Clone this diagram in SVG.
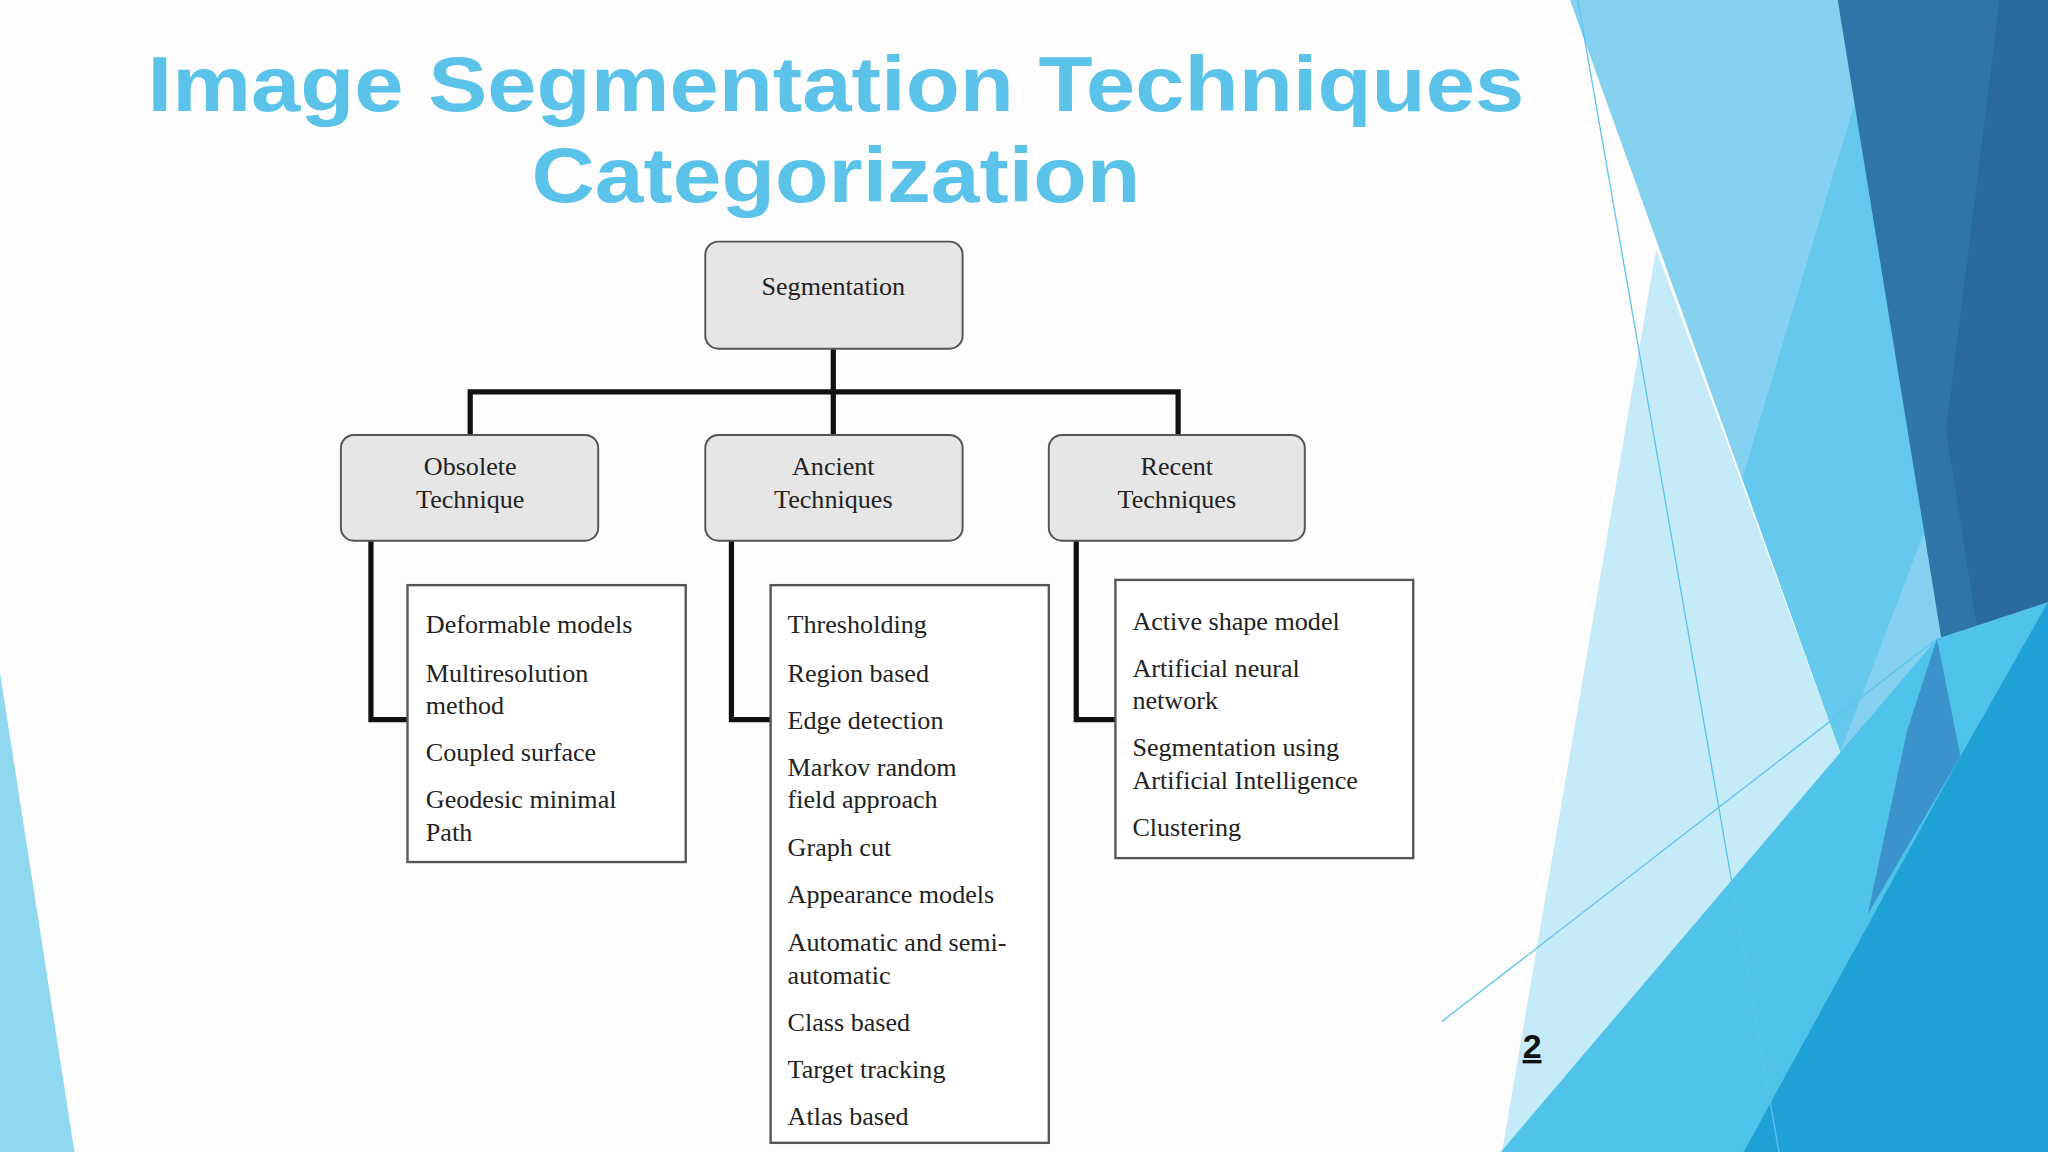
<svg xmlns="http://www.w3.org/2000/svg" width="2048" height="1152" viewBox="0 0 2048 1152">
<style>
.t{font-family:"Liberation Serif",serif;font-size:20px;fill:#222}
.c{text-anchor:middle}
.nb{fill:#e6e6e6;stroke:#555;stroke-width:1.5}
.lb{fill:#fff;stroke:#555;stroke-width:1.8}
.k{stroke:#111;stroke-width:4;fill:none}
</style>
<rect width="2048" height="1152" fill="#fdfdfd"/>
<g transform="scale(1.30612)">
<g id="background">
<polygon points="0,515 0,882 57,882" fill="#8fd8f0"/>
<polygon points="1202,0 1568,0 1568,700 1409,576" fill="#84d2f0"/>
<polygon points="1420,79 1520,300 1474,405 1409,576 1334,366" fill="#65c8ed"/>
<polygon points="1268,191 1409,576 1160,882 1150,882" fill="#c5eaf8"/>
<polygon points="1407,0 1568,0 1568,461 1501,579" fill="#2e76a7"/>
<polygon points="1531,0 1568,0 1568,461 1520,520 1490,330" fill="#2a6a9d"/>
<polygon points="1149,882 1483,489 1568,461 1568,882" fill="#50c3ea"/>
<polygon points="1483,489 1501,579 1430,700 1460,560" fill="#3a93cc"/>
<polygon points="1335,882 1501,579 1568,461 1568,882" fill="#1fa0d7"/>
<line x1="1208" y1="0" x2="1362" y2="882" stroke="#5bc4ec" stroke-width="1"/>
<line x1="1104" y1="782" x2="1483" y2="489" stroke="#5bc4ec" stroke-width="1"/>
</g>
<g id="title" font-family="'Liberation Sans',Arial,sans-serif" font-weight="bold" fill="#5bc3ea" text-anchor="middle">
<text x="640" y="85" font-size="60" textLength="1054" lengthAdjust="spacingAndGlyphs">Image Segmentation Techniques</text>
<text x="640" y="155" font-size="60" textLength="466" lengthAdjust="spacingAndGlyphs">Categorization</text>
</g>
<g id="connectors">
<path class="k" d="M638,267V300M360,333V300H902V333M638,300V333"/>
<path class="k" d="M284,414V551H312"/>
<path class="k" d="M560,414V551H590"/>
<path class="k" d="M824,414V551H854"/>
</g>
<g id="segmentation"><rect class="nb" x="540" y="185" width="197" height="82" rx="10"/><text class="t c" x="638" y="226">Segmentation</text></g>
<g id="obsolete"><rect class="nb" x="261" y="333" width="197" height="81" rx="10"/><text class="t c" x="360" y="364">Obsolete</text><text class="t c" x="360" y="389">Technique</text></g>
<g id="ancient"><rect class="nb" x="540" y="333" width="197" height="81" rx="10"/><text class="t c" x="638" y="364">Ancient</text><text class="t c" x="638" y="389">Techniques</text></g>
<g id="recent"><rect class="nb" x="803" y="333" width="196" height="81" rx="10"/><text class="t c" x="901" y="364">Recent</text><text class="t c" x="901" y="389">Techniques</text></g>
<g id="obsolete-list"><rect class="lb" x="312" y="448" width="213" height="212"/>
<text class="t" x="326" y="485">Deformable models</text>
<text class="t" x="326" y="522">Multiresolution</text>
<text class="t" x="326" y="547">method</text>
<text class="t" x="326" y="583">Coupled surface</text>
<text class="t" x="326" y="619">Geodesic minimal</text>
<text class="t" x="326" y="644">Path</text></g>
<g id="ancient-list"><rect class="lb" x="590" y="448" width="213" height="427"/>
<text class="t" x="603" y="485">Thresholding</text>
<text class="t" x="603" y="522">Region based</text>
<text class="t" x="603" y="558">Edge detection</text>
<text class="t" x="603" y="594">Markov random</text>
<text class="t" x="603" y="619">field approach</text>
<text class="t" x="603" y="655">Graph cut</text>
<text class="t" x="603" y="691">Appearance models</text>
<text class="t" x="603" y="728">Automatic and semi-</text>
<text class="t" x="603" y="753">automatic</text>
<text class="t" x="603" y="789">Class based</text>
<text class="t" x="603" y="825">Target tracking</text>
<text class="t" x="603" y="861">Atlas based</text></g>
<g id="recent-list"><rect class="lb" x="854" y="444" width="228" height="213"/>
<text class="t" x="867" y="482">Active shape model</text>
<text class="t" x="867" y="518">Artificial neural</text>
<text class="t" x="867" y="543">network</text>
<text class="t" x="867" y="579">Segmentation using</text>
<text class="t" x="867" y="604">Artificial Intelligence</text>
<text class="t" x="867" y="640">Clustering</text></g>
<g id="page"><text x="1173" y="810" font-family="'Liberation Sans',sans-serif" font-weight="bold" font-size="26" fill="#111" text-anchor="middle" text-decoration="underline">2</text></g>
</g>
</svg>
